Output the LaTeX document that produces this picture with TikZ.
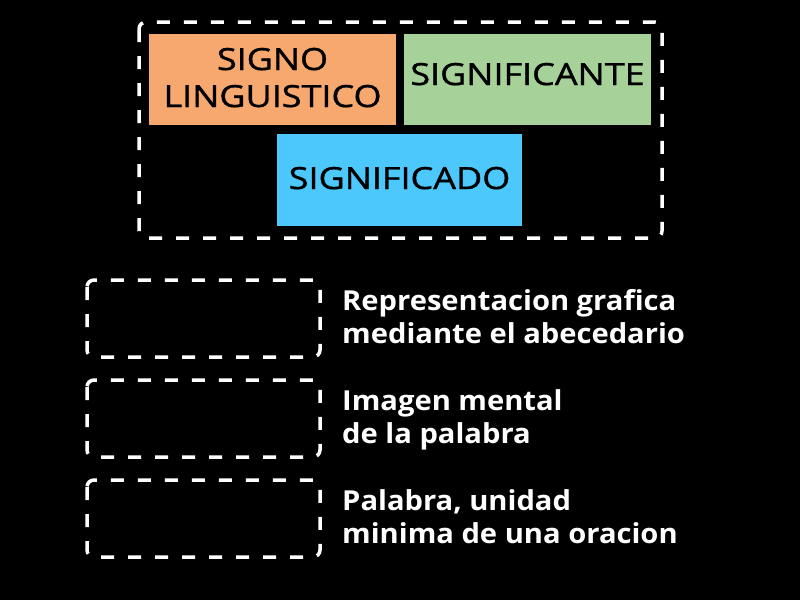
\documentclass[tikz,border=0pt]{standalone}
\usepackage{fontspec}
\setmainfont{Open Sans}
\newfontfamily\labelfont[FakeStretch=1.18,FakeBold=1.2]{Open Sans}
\newfontfamily\descfont[FakeStretch=1.06]{Open Sans Bold}
\begin{document}
\begin{tikzpicture}[x=1pt,y=-1pt,
  dbox/.style={draw=white,line width=3.5pt,dash pattern=on 13pt off 14pt,rounded corners=7pt},
  card/.style={inner sep=0pt,anchor=base,font=\labelfont\fontsize{30.5}{37}\selectfont,align=center,text=black},
  desc/.style={anchor=base west,inner sep=0pt,align=left,text=white,font=\descfont\fontsize{27.5}{33}\selectfont}]
\fill[black] (0,0) rectangle (800,600);
\useasboundingbox (0,0) rectangle (800,600);
\definecolor{corange}{HTML}{F7A86F}
\definecolor{cgreen}{HTML}{A6D198}
\definecolor{cblue}{HTML}{4CC8FC}
\draw[dbox] (139,22) rectangle (662,238);
\fill[corange] (149,34) rectangle (396,125);
\node[card] (sl) at (272.5,107) {SIGNO\\LINGUISTICO};
\fill[cgreen] (404,34) rectangle (651,125);
\node[card] (ste) at (527.5,85) {SIGNIFICANTE};
\fill[cblue] (277,134) rectangle (522,226);
\node[card] (sdo) at (399.5,189) {SIGNIFICADO};
\draw[dbox] (87,280) rectangle (320,357);
\draw[dbox] (87,380) rectangle (320,457);
\draw[dbox] (87,480) rectangle (320,557);
\node[desc] (d1) at (342,343) {Representacion grafica\\mediante el abecedario};
\node[desc] (d2) at (342,443) {Imagen mental\\de la palabra};
\node[desc] (d3) at (342,543) {Palabra, unidad\\minima de una oracion};
\end{tikzpicture}
\end{document}
